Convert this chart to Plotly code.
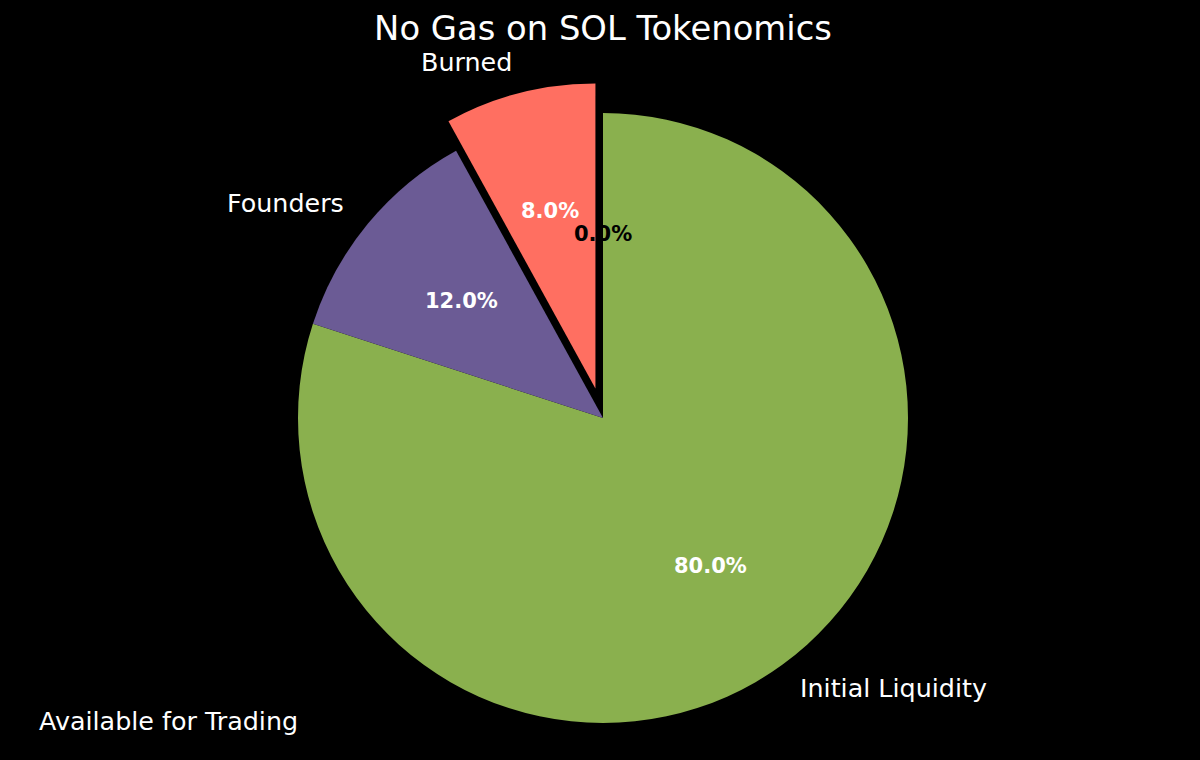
import math
import plotly.graph_objects as go

# ---- data ----
labels = ["Initial Liquidity", "Founders", "Burned", "Available for Trading"]
values = [80, 12, 8, 0]
colors = ["#8AB04E", "#6B5B95", "#FF6F61", "#F7CAC9"]
pulls = [0, 0, 0.1, 0]
pct_colors = ["white", "white", "white", "black"]

W, H = 1200, 760
CX, CY, R = 603, 415, 305  # pie centre / radius in pixels
PIE_DY = 3
maxpull = max(pulls)
half = R * (1 + maxpull)

fig = go.Figure(go.Pie(
    labels=labels, values=values, sort=False, direction="clockwise", rotation=0,
    pull=pulls, marker=dict(colors=colors, line=dict(width=0)),
    textinfo="none", hoverinfo="label+percent", showlegend=False,
    domain=dict(x=[(CX - half) / W, (CX + half) / W],
                y=[1 - (CY + PIE_DY + half) / H, 1 - (CY + PIE_DY - half) / H]),
))

def px2paper(x, y):
    return x / W, 1 - y / H

total = sum(values)
t1 = 0.25
ann = []
for lab, v, p, pc in zip(labels, values, pulls, pct_colors):
    frac = v / total
    t2 = t1 - frac
    tm = math.pi * (t1 + t2)
    c, s = math.cos(tm), math.sin(tm)
    ox, oy = CX + p * R * c, CY - p * R * s
    # percentage text
    x, y = px2paper(ox + 0.6 * R * c, oy - 0.6 * R * s + 2.5)
    ann.append(dict(x=x, y=y, xref="paper", yref="paper", text=f"<b>{frac*100:.1f}%</b>",
                    showarrow=False, xanchor="center", yanchor="middle",
                    font=dict(family="DejaVu Sans", size=21, color=pc)))
    # label text
    if v > 0:
        lx, ly = ox + 1.1 * R * c, oy - 1.1 * R * s + 2
        xa = "left" if c > 1e-9 else "right"
    else:
        lx, ly, xa = 298, 721, "right"
    x, y = px2paper(lx, ly)
    ann.append(dict(x=x, y=y, xref="paper", yref="paper", text=lab, showarrow=False,
                    xanchor=xa, yanchor="middle", xshift=(2 if xa == "right" else -2),
                    font=dict(family="DejaVu Sans", size=25.4, color="white")))
    t1 = t2

fig.update_layout(
    width=W, height=H, margin=dict(l=0, r=0, t=0, b=0),
    paper_bgcolor="black", plot_bgcolor="black",
    title=dict(text="No Gas on SOL Tokenomics", x=CX / W, xanchor="center",
               y=1 - 28 / H, yanchor="middle",
               font=dict(family="DejaVu Sans", size=33.8, color="white")),
    annotations=ann,
)

fig.write_html("out.html")
